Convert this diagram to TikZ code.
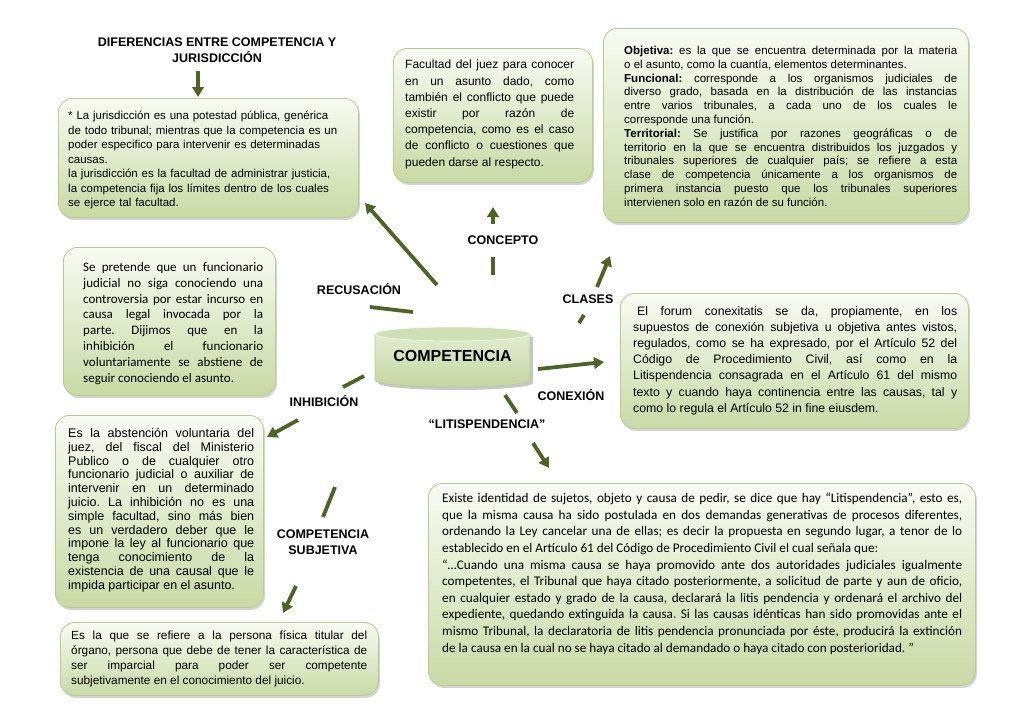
\documentclass[tikz,border=0pt]{standalone}
\usepackage{fontspec}
\setmainfont{Liberation Sans}
\newfontfamily\calib{Carlito}
\usetikzlibrary{arrows.meta,shadows}
\frenchspacing
\definecolor{arr}{HTML}{4F6228}
\definecolor{boxtop}{HTML}{F8FBF2}
\definecolor{boxbot}{HTML}{C8DAA5}
\definecolor{boxedge}{HTML}{B9CC93}
\definecolor{cyltop}{HTML}{E3ECD1}
\definecolor{cylbot}{HTML}{C3D6A0}
\definecolor{cylcap}{HTML}{D0DFB4}
\tikzset{
  panel/.style={draw=boxedge, line width=0.8pt, rounded corners=14pt,
    top color=boxtop, bottom color=boxbot, inner sep=0pt,
    drop shadow={shadow xshift=1.5pt, shadow yshift=-2.5pt, opacity=0.28, fill=black!60}},
  txt/.style={inner sep=0pt, anchor=north west, align=justify},
  lbl/.style={inner sep=0pt, font=\bfseries\fontsize{12.5}{16.5}\selectfont, align=center},
  conn/.style={draw=arr, line width=3.8pt},
  connhead/.style={conn, -{Triangle[length=10pt,width=11.5pt]}},
}
\newcommand{\fs}[2]{\fontsize{#1}{#2}\selectfont\frenchspacing\tolerance=10000\hyphenpenalty=10000\emergencystretch=0pt}
\begin{document}
\begin{tikzpicture}[x=1pt,y=-1pt]
\useasboundingbox (0,0) rectangle (1024,724);

% ---------- panels ----------
\node[panel, anchor=north west, minimum width=300pt, minimum height=119pt] (b1) at (58,98) {};
\node[panel, anchor=north west, minimum width=199pt, minimum height=134pt] (b2) at (393,48) {};
\node[panel, anchor=north west, minimum width=365pt, minimum height=194pt] (b3) at (603,28) {};
\node[panel, anchor=north west, minimum width=212pt, minimum height=148pt] (b4) at (63,247) {};
\node[panel, anchor=north west, minimum width=348pt, minimum height=135pt] (b5) at (620,293) {};
\node[panel, anchor=north west, minimum width=208pt, minimum height=192pt] (b6) at (55,415) {};
\node[panel, anchor=north west, minimum width=547pt, minimum height=202pt] (b7) at (428,483) {};
\node[panel, anchor=north west, minimum width=318pt, minimum height=73pt] (b8) at (60,622) {};

% ---------- central cylinder ----------
\fill[black, opacity=0.22] (378,337) -- (378,383) arc[start angle=180, delta angle=-180, x radius=77.5, y radius=7] -- (533,337) -- cycle;
\shade[top color=cyltop, bottom color=cylbot, draw=boxedge, line width=0.6pt]
  (375,334) -- (375,380) arc[start angle=180, delta angle=-180, x radius=77.5, y radius=7] -- (530,334) -- cycle;
\filldraw[fill=cylcap, draw=boxtop, line width=0.6pt] (452.5,334) ellipse[x radius=77.5, y radius=7];
\node[inner sep=0pt, font=\bfseries\fontsize{16}{19}\selectfont] (comp) at (452.5,356) {COMPETENCIA};

% ---------- texts ----------
\node[txt, align=left, text width=290pt, font=\fs{11.5}{14.5}] (t1) at (68,111) {* La jurisdicción es una potestad pública, genérica\\
de todo tribunal; mientras que la competencia es un\\
poder especifico para intervenir es determinadas\\
causas.\\
la jurisdicción es la facultad de administrar justicia,\\
la competencia fija los límites dentro de los cuales\\
se ejerce tal facultad.};

\node[txt, text width=169pt, font=\fs{12}{16.2}] (t2) at (405,60) {Facultad del juez para conocer\linebreak
en un asunto dado, como\linebreak
también el conflicto que puede\linebreak
existir por razón de\linebreak
competencia, como es el caso\linebreak
de conflicto o cuestiones que\linebreak
pueden darse al respecto.};

\node[txt, text width=333pt, font=\fs{11.5}{13.8}] (t3) at (624,46) {\textbf{Objetiva:} es la que se encuentra determinada por la materia\linebreak
o el asunto, como la cuantía, elementos determinantes.\par
\textbf{Funcional:} corresponde a los organismos judiciales de\linebreak
diverso grado, basada en la distribución de las instancias\linebreak
entre varios tribunales, a cada uno de los cuales le\linebreak
corresponde una función.\par
\textbf{Territorial:} Se justifica por razones geográficas o de\linebreak
territorio en la que se encuentra distribuidos los juzgados y\linebreak
tribunales superiores de cualquier país; se refiere a esta\linebreak
clase de competencia únicamente a los organismos de\linebreak
primera instancia puesto que los tribunales superiores\linebreak
intervienen solo en razón de su función.};

\node[txt, text width=180pt, font={\calib\fs{13}{15.9}}] (t4) at (83,262) {Se pretende que un funcionario\linebreak
judicial no siga conociendo una\linebreak
controversia por estar incurso en\linebreak
causa legal invocada por la\linebreak
parte. Dijimos que en la\linebreak
inhibición el funcionario\linebreak
voluntariamente se abstiene de\linebreak
seguir conociendo el asunto.};

\node[txt, text width=324pt, font=\fs{12.3}{16.2}] (t5) at (633,306) {\hspace*{4pt}El forum conexitatis se da, propiamente, en los\linebreak
supuestos de conexión subjetiva u objetiva antes vistos,\linebreak
regulados, como se ha expresado, por el Artículo 52 del\linebreak
Código de Procedimiento Civil, así como en la\linebreak
Litispendencia consagrada en el Artículo 61 del mismo\linebreak
texto y cuando haya continencia entre las causas, tal y\linebreak
como lo regula el Artículo 52 in fine eiusdem.};

\node[txt, text width=186pt, font=\fs{12.5}{13.8}] (t6) at (68,428) {Es la abstención voluntaria del\linebreak
juez, del fiscal del Ministerio\linebreak
Publico o de cualquier otro\linebreak
funcionario judicial o auxiliar de\linebreak
intervenir en un determinado\linebreak
juicio. La inhibición no es una\linebreak
simple facultad, sino más bien\linebreak
es un verdadero deber que le\linebreak
impone la ley al funcionario que\linebreak
tenga conocimiento de la\linebreak
existencia de una causal que le\linebreak
impida participar en el asunto.};

\node[txt, text width=520pt, font={\calib\fs{13.2}{16.6}}] (t7) at (442,493) {Existe identidad de sujetos, objeto y causa de pedir, se dice que hay “Litispendencia”, esto es,\linebreak
que la misma causa ha sido postulada en dos demandas generativas de procesos diferentes,\linebreak
ordenando la Ley cancelar una de ellas; es decir la propuesta en segundo lugar, a tenor de lo\linebreak
establecido en el Artículo 61 del Código de Procedimiento Civil el cual señala que:\par
“…Cuando una misma causa se haya promovido ante dos autoridades judiciales igualmente\linebreak
competentes, el Tribunal que haya citado posteriormente, a solicitud de parte y aun de oficio,\linebreak
en cualquier estado y grado de la causa, declarará la litis pendencia y ordenará el archivo del\linebreak
expediente, quedando extinguida la causa. Si las causas idénticas han sido promovidas ante el\linebreak
mismo Tribunal, la declaratoria de litis pendencia pronunciada por éste, producirá la extinción\linebreak
de la causa en la cual no se haya citado al demandado o haya citado con posterioridad. ”};

\node[txt, text width=296pt, font=\fs{11.8}{15}] (t8) at (71,631) {Es la que se refiere a la persona física titular del\linebreak
órgano, persona que debe de tener la característica de\linebreak
ser imparcial para poder ser competente\linebreak
subjetivamente en el conocimiento del juicio.};

% ---------- labels ----------
\node[lbl] (title) at (217,50) {DIFERENCIAS ENTRE COMPETENCIA Y\\JURISDICCIÓN};
\node[lbl] (lconc) at (503,240) {CONCEPTO};
\node[lbl] (lrec) at (359,289) {RECUSACIÓN};
\node[lbl] (lcla) at (588,299) {CLASES};
\node[lbl] (lcon) at (571,395) {CONEXIÓN};
\node[lbl] (linh) at (324,401) {INHIBICIÓN};
\node[lbl] (llit) at (487,424) {“LITISPENDENCIA”};
\node[lbl] (lsub) at (323,542) {COMPETENCIA\\SUBJETIVA};

% ---------- connector end points ----------
\coordinate (a0s) at (198,71);  \coordinate (a0e) at (198,97);
\coordinate (a1s) at (437,285); \coordinate (a1e) at (365,203);
\coordinate (s1s) at (370,307); \coordinate (s1e) at (413,312);
\coordinate (a2s) at (493,224); \coordinate (a2e) at (493,207);
\coordinate (s2s) at (493,257); \coordinate (s2e) at (493,275);
\coordinate (a3s) at (597,287); \coordinate (a3e) at (610,256);
\coordinate (s3s) at (579,323); \coordinate (s3e) at (584,315);
\coordinate (a4s) at (538,369); \coordinate (a4e) at (604,362);
\coordinate (s5s) at (343,387); \coordinate (s5e) at (364,376);
\coordinate (a5s) at (298,420); \coordinate (a5e) at (267,437);
\coordinate (s6s) at (505,395); \coordinate (s6e) at (517,413);
\coordinate (a6s) at (533,443); \coordinate (a6e) at (549,468);
\coordinate (s7s) at (335,487); \coordinate (s7e) at (323,517);
\coordinate (a7s) at (296,586); \coordinate (a7e) at (283,613);

% ---------- connectors ----------
\draw[connhead] (a0s) -- (a0e);
\draw[connhead] (a1s) -- (a1e);
\draw[conn] (s1s) -- (s1e);
\draw[connhead] (a2s) -- (a2e);
\draw[conn] (s2s) -- (s2e);
\draw[connhead] (a3s) -- (a3e);
\draw[conn] (s3s) -- (s3e);
\draw[connhead] (a4s) -- (a4e);
\draw[conn] (s5s) -- (s5e);
\draw[connhead] (a5s) -- (a5e);
\draw[conn] (s6s) -- (s6e);
\draw[connhead] (a6s) -- (a6e);
\draw[conn] (s7s) -- (s7e);
\draw[connhead] (a7s) -- (a7e);
\end{tikzpicture}
\end{document}
